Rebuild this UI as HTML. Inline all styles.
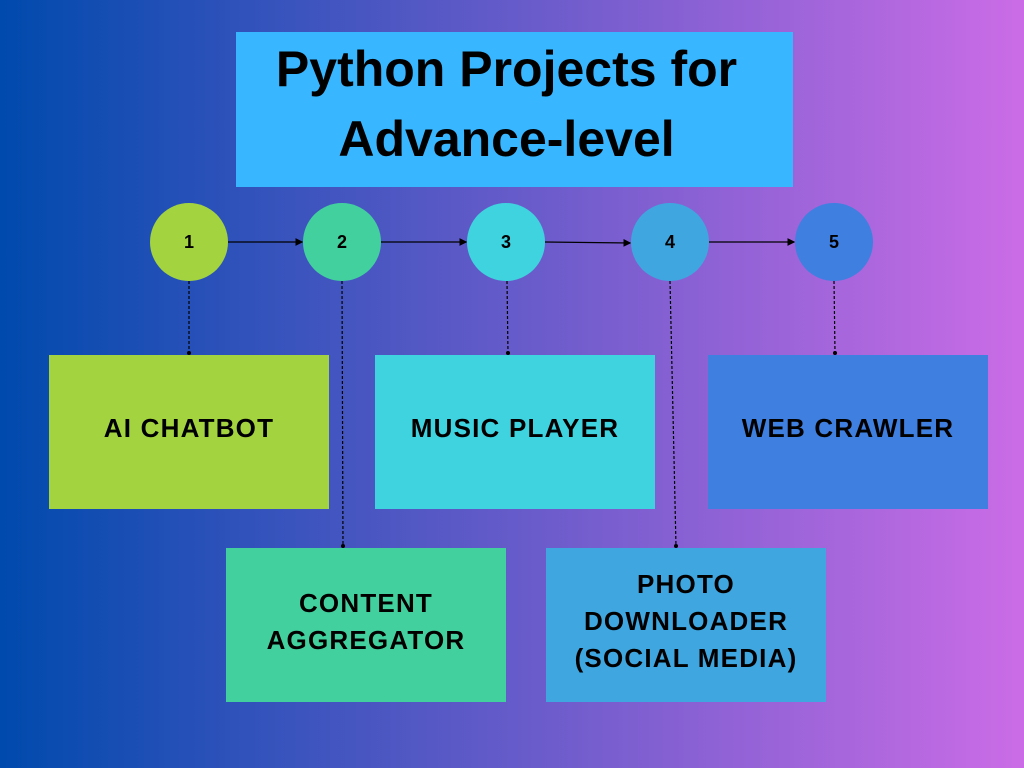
<!DOCTYPE html>
<html><head><style>
body{margin:0;width:1024px;height:768px;overflow:hidden;background:linear-gradient(90deg,#004aad,#cb6ce6);font-family:"Liberation Sans",sans-serif;position:relative}
.a{position:absolute}
.t{left:236px;top:32px;width:557px;height:155px;background:#38b6ff;color:#000;font-weight:bold;font-size:50px}
.c{width:78px;height:78px;border-radius:50%;display:flex;align-items:center;justify-content:center;font-weight:bold;font-size:18px;color:#000}
.b{width:280px;height:154px;box-sizing:border-box;padding-bottom:7px;display:flex;align-items:center;justify-content:center;text-align:center;font-weight:bold;font-size:26px;line-height:37px;letter-spacing:1.2px;color:#000}
</style></head><body>
<div class="a t"><div class="a" style="left:0;width:541px;top:2px;text-align:center;line-height:70px">Python Projects for<br>Advance-level</div></div>
<svg class="a" style="left:0;top:0" width="1024" height="768">
<defs><marker id="m" markerWidth="6" markerHeight="6" refX="5" refY="3" orient="auto"><path d="M0,0L6,3L0,6z" fill="#000"/></marker></defs>
<g stroke="#000" stroke-width="1.3">
<line x1="228" y1="242" x2="302" y2="242" marker-end="url(#m)"/>
<line x1="381" y1="242" x2="466" y2="242" marker-end="url(#m)"/>
<line x1="545" y1="242" x2="630" y2="243" marker-end="url(#m)"/>
<line x1="709" y1="242" x2="794" y2="242" marker-end="url(#m)"/>
</g>
<g stroke="#000" stroke-width="1.2" stroke-dasharray="3,2">
<line x1="189" y1="281" x2="189" y2="353"/>
<line x1="342" y1="281" x2="343" y2="546"/>
<line x1="507" y1="281" x2="508" y2="353"/>
<line x1="670" y1="281" x2="676" y2="546"/>
<line x1="834" y1="281" x2="835" y2="353"/>
</g>
<g fill="#000"><circle cx="189" cy="353" r="2"/><circle cx="343" cy="546" r="2"/><circle cx="508" cy="353" r="2"/><circle cx="676" cy="546" r="2"/><circle cx="835" cy="353" r="2"/></g>
</svg>
<div class="a c" style="left:150px;top:203px;background:#a3d33f">1</div>
<div class="a c" style="left:303px;top:203px;background:#42d19e">2</div>
<div class="a c" style="left:467px;top:203px;background:#3fd3e0">3</div>
<div class="a c" style="left:631px;top:203px;background:#3fa6e0">4</div>
<div class="a c" style="left:795px;top:203px;background:#3f7fe0">5</div>
<div class="a b" style="left:49px;top:355px;background:#a3d33f">AI CHATBOT</div>
<div class="a b" style="left:375px;top:355px;background:#3fd3e0">MUSIC PLAYER</div>
<div class="a b" style="left:708px;top:355px;background:#3f7fe0">WEB CRAWLER</div>
<div class="a b" style="left:226px;top:548px;background:#42d19e">CONTENT<br>AGGREGATOR</div>
<div class="a b" style="left:546px;top:548px;background:#3fa6e0">PHOTO<br>DOWNLOADER<br>(SOCIAL MEDIA)</div>
</body></html>
